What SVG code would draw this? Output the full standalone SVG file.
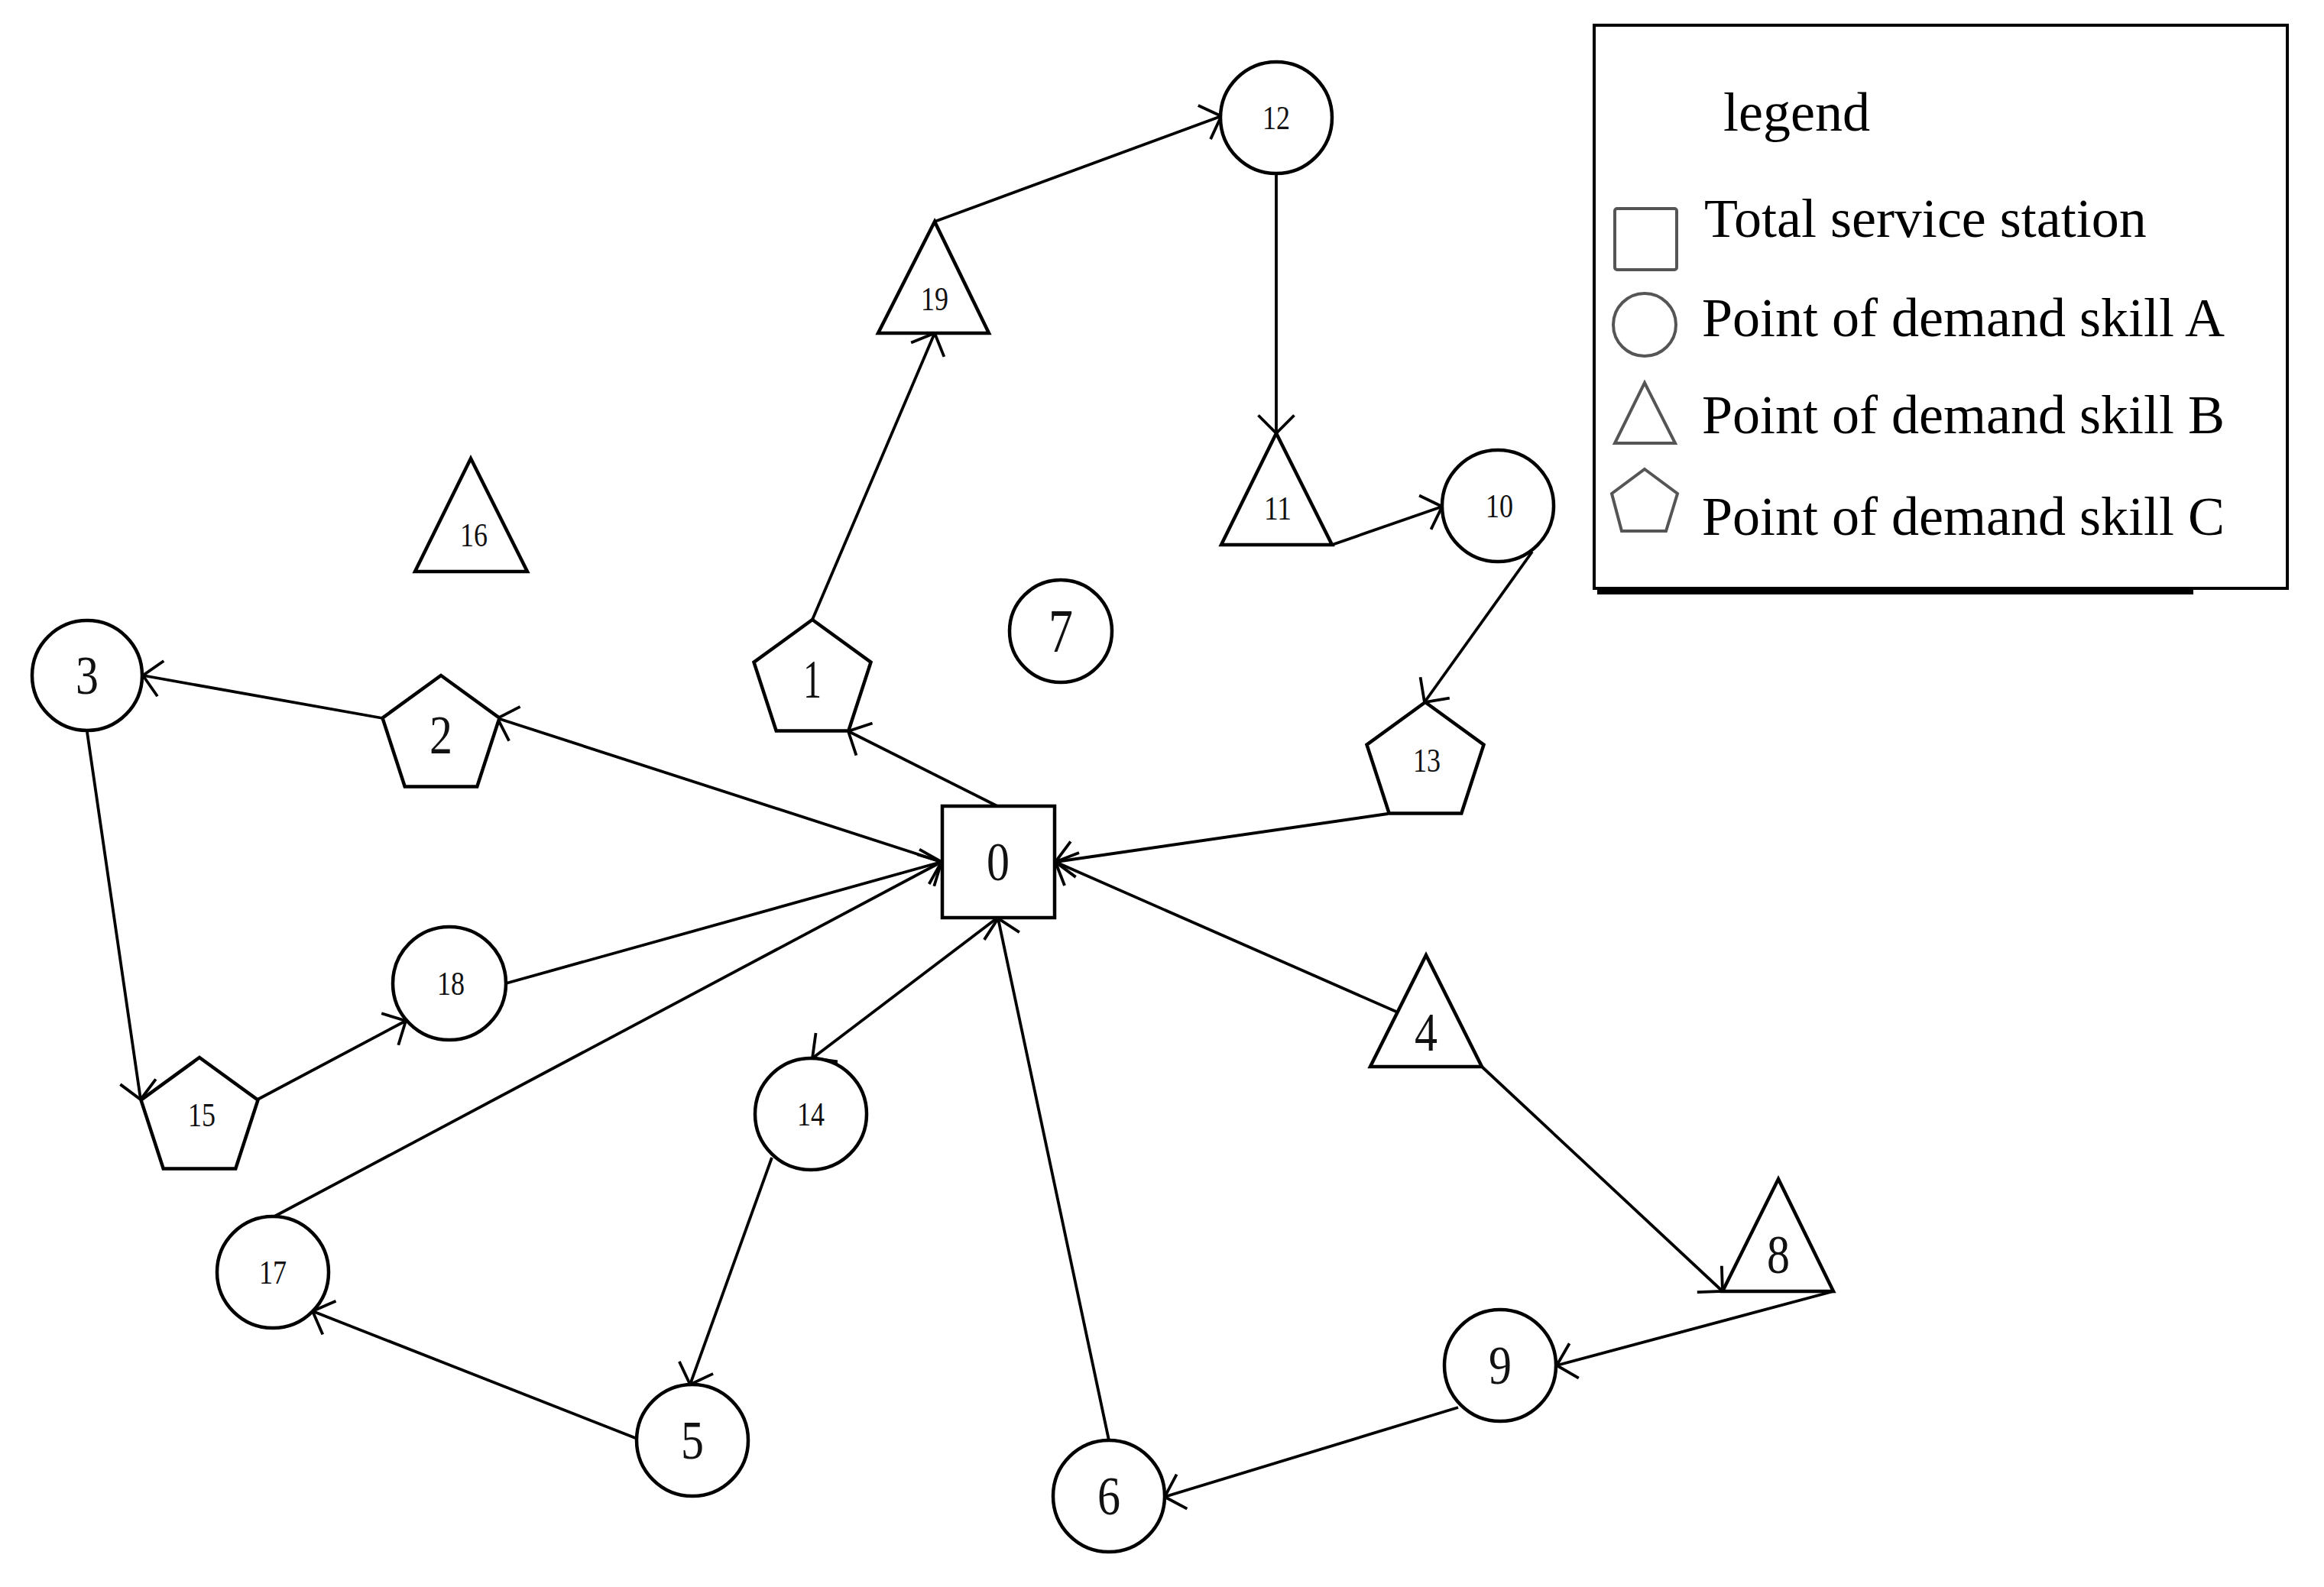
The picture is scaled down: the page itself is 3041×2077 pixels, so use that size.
<svg xmlns="http://www.w3.org/2000/svg" width="3041" height="2077" viewBox="0 0 3041 2077">
<style>
.n{fill:#fff;stroke:#000;stroke-width:4.5;stroke-linejoin:miter}
.e{fill:none;stroke:#000;stroke-width:3.8}
.big{font-family:"Liberation Serif","Times New Roman",serif;font-size:72px;fill:#111;text-anchor:middle;dominant-baseline:central}
.sm{font-family:"Liberation Serif","Times New Roman",serif;font-size:44px;fill:#111;text-anchor:middle;dominant-baseline:central}
.lg{font-family:"Liberation Serif","Times New Roman",serif;font-size:72px;fill:#000}
.ls{fill:#fff;stroke:#555;stroke-width:4}
</style>
<defs>
<marker id="ah" markerUnits="userSpaceOnUse" viewBox="-30 -30 60 60" markerWidth="60" markerHeight="60" refX="0" refY="0" orient="auto" overflow="visible">
<path d="M-23.5,-23.5 L0,0 L-23.5,23.5" fill="none" stroke="#000" stroke-width="3.8"/>
</marker>
</defs>
<rect width="3041" height="2077" fill="#fff"/>
<g id="connectors" marker-end="url(#ah)">
<line class="e" x1="1305" y1="1055" x2="1110" y2="957"/>
<line class="e" x1="1063" y1="811" x2="1223" y2="436"/>
<line class="e" x1="1223" y1="290" x2="1598" y2="152"/>
<line class="e" x1="1670" y1="227" x2="1670" y2="567"/>
<line class="e" x1="1743" y1="713" x2="1887" y2="663"/>
<line class="e" x1="2005" y1="722" x2="1864" y2="919"/>
<line class="e" x1="1816" y1="1065" x2="1381" y2="1128"/>
<line class="e" x1="1827" y1="1324" x2="1381" y2="1128"/>
<line class="e" x1="1939" y1="1396" x2="2254" y2="1690"/>
<line class="e" x1="2399" y1="1690" x2="2037" y2="1787"/>
<line class="e" x1="1908" y1="1842" x2="1524" y2="1959"/>
<line class="e" x1="1451" y1="1885" x2="1306" y2="1202"/>
<line class="e" x1="1304" y1="1202" x2="1063" y2="1385"/>
<line class="e" x1="1010" y1="1515" x2="903" y2="1812"/>
<line class="e" x1="834" y1="1883" x2="409" y2="1716"/>
<line class="e" x1="359" y1="1592" x2="1232" y2="1128"/>
<line class="e" x1="662" y1="1287" x2="1232" y2="1128"/>
<line class="e" x1="337" y1="1439" x2="531" y2="1336"/>
<line class="e" x1="114" y1="958" x2="184" y2="1439"/>
<line class="e" x1="501" y1="940" x2="187" y2="884"/>
<line class="e" x1="1232" y1="1128" x2="651" y2="940"/>
</g>
<g id="node0"><rect class="n" x="1233" y="1055" width="147" height="146"/><text class="big" x="1306" y="1128" textLength="30" lengthAdjust="spacingAndGlyphs">0</text></g>
<g id="node1"><polygon class="n" points="1063,811 1139.5,866.6 1110.3,956.4 1015.7,956.4 986.5,866.6"/><text class="big" x="1063" y="889" textLength="24" lengthAdjust="spacingAndGlyphs">1</text></g>
<g id="node2"><polygon class="n" points="577,884 653.5,939.6 624.3,1029.4 529.7,1029.4 500.5,939.6"/><text class="big" x="577" y="962" textLength="30" lengthAdjust="spacingAndGlyphs">2</text></g>
<g id="node3"><circle class="n" cx="114" cy="884" r="72"/><text class="big" x="114" y="884" textLength="30" lengthAdjust="spacingAndGlyphs">3</text></g>
<g id="node4"><polygon class="n" points="1866,1250 1939,1396 1793,1396"/><text class="big" x="1866" y="1351" textLength="30" lengthAdjust="spacingAndGlyphs">4</text></g>
<g id="node5"><circle class="n" cx="906" cy="1885" r="73"/><text class="big" x="906" y="1885" textLength="30" lengthAdjust="spacingAndGlyphs">5</text></g>
<g id="node6"><circle class="n" cx="1451" cy="1958" r="73"/><text class="big" x="1451" y="1958" textLength="30" lengthAdjust="spacingAndGlyphs">6</text></g>
<g id="node7"><circle class="n" cx="1388" cy="826" r="67"/><text class="big" x="1388" y="826" textLength="32" lengthAdjust="spacingAndGlyphs" style="font-size:80px">7</text></g>
<g id="node8"><polygon class="n" points="2327,1543 2399,1690 2254,1690"/><text class="big" x="2327" y="1642" textLength="30" lengthAdjust="spacingAndGlyphs">8</text></g>
<g id="node9"><circle class="n" cx="1963" cy="1787" r="73"/><text class="big" x="1963" y="1787" textLength="30" lengthAdjust="spacingAndGlyphs">9</text></g>
<g id="node10"><circle class="n" cx="1960" cy="662" r="73"/><text class="sm" x="1962" y="662" textLength="36" lengthAdjust="spacingAndGlyphs">10</text></g>
<g id="node11"><polygon class="n" points="1670,567 1743,713 1598,713"/><text class="sm" x="1672" y="665" textLength="36" lengthAdjust="spacingAndGlyphs">11</text></g>
<g id="node12"><circle class="n" cx="1670" cy="154" r="73"/><text class="sm" x="1670" y="154" textLength="36" lengthAdjust="spacingAndGlyphs">12</text></g>
<g id="node13"><polygon class="n" points="1865,919 1941.5,974.6 1912.3,1064.4 1817.7,1064.4 1788.5,974.6"/><text class="sm" x="1867" y="995" textLength="36" lengthAdjust="spacingAndGlyphs">13</text></g>
<g id="node14"><circle class="n" cx="1061" cy="1458" r="73"/><text class="sm" x="1061" y="1458" textLength="36" lengthAdjust="spacingAndGlyphs">14</text></g>
<g id="node15"><polygon class="n" points="261,1384 337.5,1439.6 308.3,1529.4 213.7,1529.4 184.5,1439.6"/><text class="sm" x="264" y="1459" textLength="36" lengthAdjust="spacingAndGlyphs">15</text></g>
<g id="node16"><polygon class="n" points="616,600 690,748 543,748"/><text class="sm" x="620" y="700" textLength="36" lengthAdjust="spacingAndGlyphs">16</text></g>
<g id="node17"><circle class="n" cx="357" cy="1665" r="73"/><text class="sm" x="357" y="1665" textLength="36" lengthAdjust="spacingAndGlyphs">17</text></g>
<g id="node18"><circle class="n" cx="588" cy="1287" r="74"/><text class="sm" x="590" y="1287" textLength="36" lengthAdjust="spacingAndGlyphs">18</text></g>
<g id="node19"><polygon class="n" points="1223,290 1294,436 1149,436"/><text class="sm" x="1223" y="391" textLength="36" lengthAdjust="spacingAndGlyphs">19</text></g>
<g id="legend">
<rect x="2086" y="33" width="907" height="737" fill="#fff" stroke="#000" stroke-width="4"/>
<line x1="2090" y1="775" x2="2870" y2="775" stroke="#000" stroke-width="6"/>
<text class="lg" x="2255" y="171">legend</text>
<rect class="ls" x="2113" y="273" width="81" height="80" rx="3"/>
<text class="lg" x="2230" y="310">Total service station</text>
<circle class="ls" cx="2152" cy="425" r="41"/>
<text class="lg" x="2227" y="440">Point of demand skill A</text>
<polygon class="ls" points="2152,501 2192,580 2113,580"/>
<text class="lg" x="2227" y="567">Point of demand skill B</text>
<polygon class="ls" points="2152,614 2195,646 2180,695 2122,695 2109,646"/>
<text class="lg" x="2227" y="700">Point of demand skill C</text>
</g>
</svg>
